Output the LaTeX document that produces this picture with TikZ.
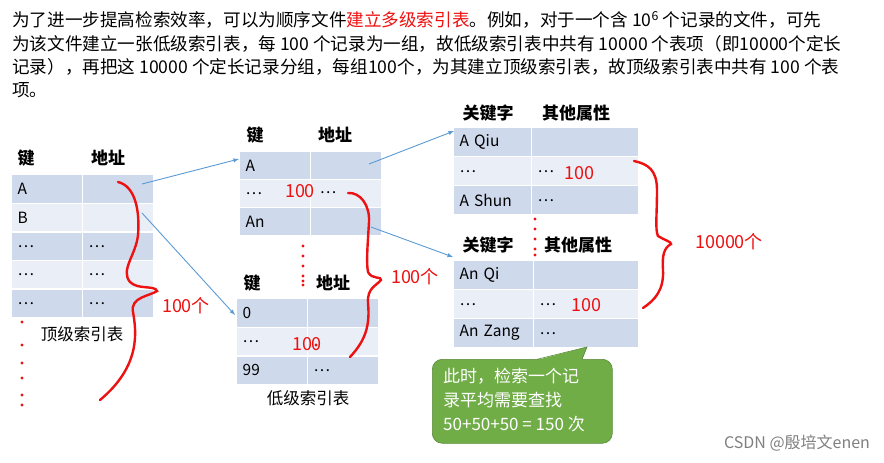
\documentclass[tikz,border=0pt]{standalone}
\usepackage{fontspec}
\setmainfont{Noto Sans CJK SC}
\definecolor{dk}{HTML}{CFD9EC}
\definecolor{lt}{HTML}{E9EEF7}
\definecolor{rd}{HTML}{EE1111}
\definecolor{bl}{HTML}{5B9BD5}
\definecolor{gr}{HTML}{70AD47}
\tikzset{
 cell/.style={draw=white,line width=1.3pt,anchor=north west,inner xsep=6pt,inner ysep=0pt,align=left,font=\fontsize{15.5}{17}\selectfont,minimum height=#1},
 cell/.default=28pt,
 hdr/.style={font=\fontsize{17}{19}\selectfont\bfseries},
 link/.style={draw=bl,line width=0.9pt,-latex},
 brace/.style={draw=rd,line width=2.4pt,line cap=round},
 rdot/.style={fill=rd,circle,inner sep=0pt,minimum size=3.2pt},
 rtxt/.style={text=rd,font=\fontsize{18}{20}\selectfont},
 para/.style={anchor=west,font=\fontsize{17.6}{20}\selectfont,inner sep=0pt}
}
% name x y w1 w2 h fill t1 t2
\newcommand\crow[9]{%
 \node[cell=#6pt,fill=#7,text width=#4pt-12pt] (#1k) at (#2,#3) {#8};
 \node[cell=#6pt,fill=#7,text width=#5pt-12pt] (#1v) at (#2+#4,#3) {#9};}
\begin{document}
\begin{tikzpicture}[x=1pt,y=-1pt]
\useasboundingbox (0,0) rectangle (884,463);
\fill[white] (0,0) rectangle (884,463);
% paragraph
\node[para] (p1) at (12,20) {为了进一步提高检索效率，可以为顺序文件\textcolor{rd}{建立多级索引表}。例如，对于一个含 10\textsuperscript{6} 个记录的文件，可先};
\node[para] (p2) at (12,44) {为该文件建立一张低级索引表，每 100 个记录为一组，故低级索引表中共有 10000 个表项（即10000个定长};
\node[para] (p3) at (12,67) {记录），再把这 10000 个定长记录分组，每组100个，为其建立顶级索引表，故顶级索引表中共有 100 个表};
\node[para] (p4) at (12,90) {项。};
% top-level table
\node[hdr] (h1a) at (26,158) {键};
\node[hdr] (h1b) at (108,158) {地址};
\crow{ta}{11}{174}{71}{71}{28.6}{dk}{A}{}
\crow{tb}{11}{202.6}{71}{71}{28.6}{lt}{B}{}
\crow{tc}{11}{231.2}{71}{71}{28.6}{dk}{…}{…}
\crow{td}{11}{259.8}{71}{71}{28.6}{lt}{…}{…}
\crow{te}{11}{288.4}{71}{71}{28.6}{dk}{…}{…}
\node[font=\fontsize{16.5}{18}\selectfont] (l1) at (82,334) {顶级索引表};
% low table 1
\node[hdr] (h2a) at (255,135) {键};
\node[hdr] (h2b) at (335,135) {地址};
\crow{ua}{239}{151}{71}{71}{28}{dk}{A}{}
\crow{ub}{239}{179}{71}{71}{28}{lt}{…}{}
\crow{uc}{239}{207}{71}{71}{28}{dk}{An}{}
% low table 2
\node[hdr] (h3a) at (252,283) {键};
\node[hdr] (h3b) at (333,283) {地址};
\crow{va}{236}{298}{71}{71}{28.6}{dk}{0}{}
\crow{vb}{236}{326.6}{71}{71}{28.6}{lt}{…}{}
\crow{vc}{236}{355.2}{71}{71}{28.6}{dk}{99}{…}
\node[font=\fontsize{16.5}{18}\selectfont] (l2) at (308,398) {低级索引表};
% right table 1
\node[hdr] (h4a) at (488,113) {关键字};
\node[hdr] (h4b) at (576,113) {其他属性};
\crow{wa}{453}{127}{78}{107}{29}{dk}{A Qiu}{}
\crow{wb}{453}{156}{78}{107}{29}{lt}{…}{…}
\crow{wc}{453}{185}{78}{107}{29}{dk}{A Shun}{…}
% right table 2
\node[hdr] (h5a) at (488,245) {关键字};
\node[hdr] (h5b) at (578,245) {其他属性};
\crow{xa}{453}{260}{80}{105}{29}{dk}{An Qi}{}
\crow{xb}{453}{289}{80}{105}{29}{lt}{…}{…}
\crow{xc}{453}{318}{80}{105}{29}{dk}{An Zang}{…}
% red 100 labels
\node[rtxt] (r1) at (300,191) {100};
\node[font=\fontsize{15.5}{17}\selectfont] (r1d) at (328,193) {…};
\node[rtxt] (r2) at (307,344) {100};
\node[rtxt] (r3) at (579,173) {100};
\node[rtxt] (r4) at (586,305) {100};
\node[rtxt] (c1) at (186,306) {100个};
\node[rtxt] (c2) at (415,277) {100个};
\node[rtxt] (c3) at (729,242) {10000个};
% links
\coordinate (s1) at (142,184); \coordinate (e1) at (239,159);
\coordinate (s2) at (142,213); \coordinate (e2) at (235,315);
\coordinate (s3) at (369,164); \coordinate (e3) at (454,131);
\coordinate (s4) at (371,227); \coordinate (e4) at (453,257);
\draw[link] (s1) -- (e1);
\draw[link] (s2) -- (e2);
\draw[link] (s3) -- (e3);
\draw[link] (s4) -- (e4);
% braces
\draw[brace] (118,182) .. controls (135,186) and (140,210) .. (138,235) .. controls (136,255) and (120,270) .. (130,282) .. controls (138,290) and (155,285) .. (157,291) .. controls (150,296) and (130,297) .. (133,312) .. controls (136,330) and (142,365) .. (100,400);
\draw[brace] (348,193) .. controls (360,192) and (370,205) .. (369,222) .. controls (368,240) and (366,262) .. (368,272) .. controls (372,280) and (382,276) .. (381,280) .. controls (376,286) and (367,288) .. (368,303) .. controls (370,325) and (366,340) .. (350,357);
\draw[brace] (634,161) .. controls (648,164) and (657,170) .. (657,190) .. controls (657,215) and (655,230) .. (658,236) .. controls (664,240) and (672,242) .. (671,244) .. controls (664,248) and (662,255) .. (663,270) .. controls (664,290) and (655,300) .. (643,308);
% dots
\foreach \yy [count=\i] in {322,345,363,378,395,405} \node[rdot] (da\i) at (22,\yy) {};
\foreach \yy [count=\i] in {246,256,266,276,281,285} \node[rdot] (db\i) at (303,\yy) {};
\node[rdot] (dbx) at (316,345) {};
\foreach \yy [count=\i] in {219,229,239,249,255} \node[rdot] (dc\i) at (535,\yy) {};
% callout
\node[fill=gr,draw=gr!80!black,line width=0.6pt,rounded corners=10pt,anchor=north west,minimum width=180pt,minimum height=84pt,inner sep=0pt] (cb) at (432,359) {};
\fill[gr] (537,360) -- (587,347) -- (582,360) -- cycle;
\draw[gr!80!black,line width=0.6pt] (537,359.3) -- (587,347) -- (582,359.3);
\node[anchor=north west,text=white,align=left,font=\fontsize{17}{24}\selectfont,inner sep=0pt] (ct) at (443,368) {此时，检索一个记\\录平均需要查找\\50+50+50 = 150 次};
\node[text=gray,font=\fontsize{16}{18}\selectfont] (wm) at (797,443) {CSDN @殷培文enen};
\end{tikzpicture}
\end{document}
